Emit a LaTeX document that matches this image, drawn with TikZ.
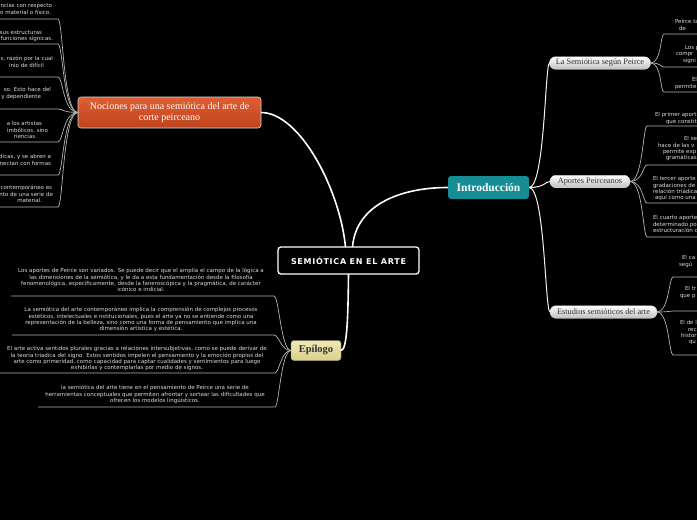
\documentclass[tikz,border=0pt]{standalone}
\usepackage{fontspec}
\setmainfont{Liberation Serif}
\setsansfont{DejaVu Sans}
\newfontfamily\rootfont[LetterSpace=9]{DejaVu Sans}
\usepackage{tikz}
\usetikzlibrary{positioning,shadings}
\definecolor{mapTeal}{HTML}{168C95}
\definecolor{mapOrange}{HTML}{E05E32}
\definecolor{mapOrangeDark}{HTML}{BE431D}
\definecolor{mapKhaki}{HTML}{EEE8B4}
\definecolor{mapKhakiDark}{HTML}{D9CF8C}
\definecolor{mapTwig}{HTML}{B4B4B4}
\definecolor{mapLeafText}{HTML}{DCDCDC}

\begin{document}
\begin{tikzpicture}[x=1pt, y=-1pt,
  every node/.style={inner sep=0pt, outer sep=0pt},
  rootbox/.style={rectangle, rounded corners=3pt, draw=white, line width=1.3pt, fill=black,
    minimum width=141pt, minimum height=27pt, text=white, font=\rootfont\bfseries\fontsize{8}{9}\selectfont},
  topicbox/.style={rectangle, rounded corners=3pt, align=center, text=white},
  pill/.style={rectangle, rounded corners=6pt, draw=white!75!gray, top color=white, bottom color=gray!50,
    minimum height=12.5pt, text=black!80, font=\fontsize{8.3}{9}\selectfont},
  leaf/.style={text=mapLeafText, font=\sffamily\fontsize{5.5}{6.33}\selectfont},
  branch/.style={white, line width=1.6pt},
  subbranch/.style={white!90!gray, line width=1pt},
  twig/.style={mapTwig, line width=0.7pt},
]
\useasboundingbox (0,0) rectangle (697,520);
\fill[black] (0,0) rectangle (697,520);
\clip (0,0) rectangle (697,520);

% Main topics
\node[rootbox] (root) at (348.5,260.5) {SEMIÓTICA EN EL ARTE};
\node[topicbox, fill=mapTeal, minimum width=81pt, minimum height=23pt,
  font=\bfseries\fontsize{11.5}{12}\selectfont] (intro) at (488.5,187.5) {Introducción};
\node[topicbox, draw=white!70!gray, line width=0.6pt, top color=mapOrange, bottom color=mapOrangeDark,
  minimum width=183pt, minimum height=31pt, font=\fontsize{10}{11.5}\selectfont] (nociones) at (169.5,112.5)
  {Nociones para una semiótica del arte de\\corte peirceano};
\node[topicbox, draw=mapKhakiDark!80!black, line width=0.4pt, top color=mapKhaki, bottom color=mapKhakiDark,
  minimum width=50pt, minimum height=20pt, text=black!80, font=\bfseries\fontsize{10.5}{11}\selectfont] (epilogo)
  at (316,350.5) {Epílogo};

% Subtopics of Introducción
\node[pill, minimum width=101pt] (peirce) at (600,63) {La Semiótica según Peirce};
\node[pill, minimum width=80pt] (aportes) at (590,181.5) {Aportes Peirceanos};
\node[pill, minimum width=107pt] (estudios) at (603.5,312) {Estudios semióticos del arte};

% Branches from the root
\draw[branch] (root.north) ++(4,0) .. controls (356,205) and (400,187.5) .. (intro.west);
\draw[branch] (root.north) ++(-3,0) .. controls (340,190) and (300,112.5) .. (nociones.east);
\draw[branch] (root.south) .. controls (348,320) and (347,350) .. (epilogo.east);

\draw[subbranch] (intro.east) .. controls (545,187.5) and (545,63) .. (peirce.west);
\draw[subbranch] (intro.east) .. controls (545,187.5) and (545,181.5) .. (aportes.west);
\draw[subbranch] (intro.east) .. controls (545,187.5) and (545,312) .. (estudios.west);

% Leaves of Nociones (cut at the left edge)
\node[leaf, align=right, anchor=north east] (nl1) at (52,3.5) {ncias con respecto\\jo material o físico.\kern1pt};
\node[leaf, align=right, anchor=north east] (nl2) at (53,30.5) {sus estructuras\kern11pt\\funciones sígnicas.};
\node[leaf, align=right, anchor=north east] (nl3) at (53,56.5) {s, razón por la cual\\inio de difícil\kern9pt};
\node[leaf, align=right, anchor=north east] (nl4) at (51,87.5) {xo. Esto hace del\\y dependiente\kern10pt};
\node[leaf, align=right, anchor=north east] (nl5) at (48,121.5) {a los artistas\kern6pt\\imbólicos, sino\\riencias.\kern11pt};
\node[leaf, align=right, anchor=north east] (nl6) at (51,154.5) {dicas, y se abren a\\nectan con formas};
\node[leaf, align=right, anchor=north east] (nl7) at (53,185.5) {contemporáneo es\kern1pt\\nto de una serie de\\material.\kern11pt};

\coordinate (nl1u) at (58,19);
\coordinate (nl2u) at (58,44);
\coordinate (nl3u) at (58,77);
\coordinate (nl4u) at (58,109);
\coordinate (nl5u) at (58,142);
\coordinate (nl6u) at (58,175);
\coordinate (nl7u) at (58,207);
\draw[twig] (nociones.west) .. controls (63,112.5) and (63,19) .. (nl1u) -- ++(-60,0);
\draw[twig] (nociones.west) .. controls (63,112.5) and (63,44) .. (nl2u) -- ++(-60,0);
\draw[twig] (nociones.west) .. controls (63,112.5) and (63,77) .. (nl3u) -- ++(-60,0);
\draw[twig] (nociones.west) .. controls (63,112.5) and (63,109) .. (nl4u) -- ++(-60,0);
\draw[twig] (nociones.west) .. controls (63,112.5) and (63,142) .. (nl5u) -- ++(-60,0);
\draw[twig] (nociones.west) .. controls (63,112.5) and (63,175) .. (nl6u) -- ++(-60,0);
\draw[twig] (nociones.west) .. controls (63,112.5) and (63,207) .. (nl7u) -- ++(-60,0);

% Leaves of Epílogo
\node[leaf, align=center, anchor=north] (ep1) at (141,268.5)
  {Los aportes de Peirce son variados. Se puede decir que el amplía el campo de la lógica a\\
   las dimensiones de la semiótica, y le da a esta fundamentación desde la filosofía\\
   fenomenológica, especificamente, desde la faneroscópica y la pragmática, de carácter\\
   icónico e indicial.};
\node[leaf, align=center, anchor=north] (ep2) at (141,307.5)
  {La semiótica del arte contemporáneo implica la comprensión de complejos procesos\\
   estéticos, intelectuales e nstitucionales, pues el arte ya no se entiende como una\\
   representación de la belleza, sino como una forma de pensamiento que implica una\\
   dimensión artística y estética.};
\node[leaf, align=center, anchor=north] (ep3) at (137,346.5)
  {El arte activa sentidos plurales gracias a relaciones intersubjetivas, como se puede derivar de\\
   la teoría triadica del signo. Estos sentidos impelen el pensamiento y la emoción propios del\\
   arte como primeridad, como capacidad para captar cualidades y sentimientos para luego\\
   exhibirlas y contemplarlas por medio de signos.};
\node[leaf, align=center, anchor=north] (ep4) at (155,385.5)
  {la semiótica del arte tiene en el pensamiento de Peirce una serie de\\
   herramientas conceptuales que permiten afrontar y sortear las dificultades que\\
   ofrecen los modelos lingüísticos.};

\coordinate (ep1u) at (274,296);
\coordinate (ep2u) at (274,335);
\coordinate (ep3u) at (275,373);
\coordinate (ep4u) at (275,407);
\draw[twig] (epilogo.west) .. controls (281,350.5) and (279,296) .. (ep1u) -- (11,296);
\draw[twig] (epilogo.west) .. controls (281,350.5) and (279,335) .. (ep2u) -- (12,335);
\draw[twig] (epilogo.west) .. controls (281,350.5) and (279,373) .. (ep3u) -- (0,373);
\draw[twig] (epilogo.west) .. controls (281,350.5) and (279,407) .. (ep4u) -- (38,407);

% Leaves of La Semiótica según Peirce (cut at the right edge)
\node[leaf, align=left, anchor=north west] (pl1) at (675,19.5) {Peirce ta\\\hspace*{4pt}de};
\node[leaf, align=left, anchor=north west] (pl2) at (676,45.5) {\hspace*{9pt}Los p\\compr\\\hspace*{7pt}signi};
\node[leaf, align=left, anchor=north west] (pl3) at (675,77.5) {\hspace*{17pt}El\\permite};
\coordinate (pl1u) at (664,34);
\coordinate (pl2u) at (664,67);
\coordinate (pl3u) at (664,92);
\draw[twig] (peirce.east) .. controls (662,63) and (660,34) .. (pl1u) -- ++(40,0);
\draw[twig] (peirce.east) .. controls (662,63) and (660,67) .. (pl2u) -- ++(40,0);
\draw[twig] (peirce.east) .. controls (662,63) and (660,92) .. (pl3u) -- ++(40,0);

% Leaves of Aportes Peirceanos
\node[leaf, align=left, anchor=north west] (al1) at (655,112.5) {El primer aport\\\hspace*{11pt}que constit};
\node[leaf, align=left, anchor=north west] (al2) at (658,136.5)
  {\hspace*{26pt}El se\\hace de las v\\\hspace*{5pt}permite exp\\\hspace*{8pt}gramáticas};
\node[leaf, align=left, anchor=north west] (al3) at (653,176.5)
  {El tercer aporte\\gradaciones de\\relación triádica\\\hspace*{2pt}aquí como una};
\node[leaf, align=left, anchor=north west] (al4) at (653,215.5) {El cuarto aporte\\determinado po\\estructuración c};
\coordinate (al1u) at (647,126);
\coordinate (al2u) at (647,165);
\coordinate (al3u) at (647,203);
\coordinate (al4u) at (647,237);
\draw[twig] (aportes.east) .. controls (643,181.5) and (643,126) .. (al1u) -- ++(60,0);
\draw[twig] (aportes.east) .. controls (643,181.5) and (643,165) .. (al2u) -- ++(60,0);
\draw[twig] (aportes.east) .. controls (643,181.5) and (643,203) .. (al3u) -- ++(60,0);
\draw[twig] (aportes.east) .. controls (643,181.5) and (643,237) .. (al4u) -- ++(60,0);

% Leaves of Estudios semióticos del arte
\node[leaf, align=left, anchor=north west] (sl1) at (679,255.5) {\hspace*{3pt}El ca\\segú};
\node[leaf, align=left, anchor=north west] (sl2) at (680,286.5) {\hspace*{5pt}El tr\\que p};
\node[leaf, align=left, anchor=north west] (sl3) at (680,320.5) {El de l\\\hspace*{8pt}rec\\\hspace*{1pt}histor\\\hspace*{9pt}qu};
\coordinate (sl1u) at (673,277);
\coordinate (sl2u) at (673,311);
\coordinate (sl3u) at (673,355);
\draw[twig] (estudios.east) .. controls (669,312) and (669,277) .. (sl1u) -- ++(30,0);
\draw[twig] (estudios.east) .. controls (669,312) and (669,311) .. (sl2u) -- ++(30,0);
\draw[twig] (estudios.east) .. controls (669,312) and (669,355) .. (sl3u) -- ++(30,0);
\end{tikzpicture}
\end{document}
